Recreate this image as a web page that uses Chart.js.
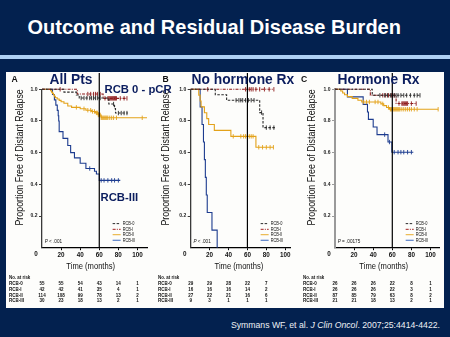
<!DOCTYPE html>
<html>
<head>
<meta charset="utf-8">
<script src="https://cdn.jsdelivr.net/npm/chart.js@4.4.0/dist/chart.umd.min.js"></script>
<style>
  html, body { margin: 0; padding: 0; }
  body { width: 450px; height: 337px; background: #03214f; position: relative; overflow: hidden;
         font-family: "Liberation Sans", Arial, sans-serif; }
  .abs { position: absolute; white-space: nowrap; line-height: 1; }
  #title { left: 27.5px; top: 16.5px; font-size: 20px; font-weight: bold; color: #fff; }
  #rule { left: 0; top: 54.5px; width: 450px; height: 4px; background: #aed0f4; }
  #panel { left: 6px; top: 71.5px; width: 438px; height: 236.5px; background: #fdfdfb; }
  canvas { position: absolute; top: 70px; }
  .ann { color: #0b1d5e; font-weight: bold; }
  .big { font-size: 13.8px; top: 73px; }
  .mid { font-size: 11.3px; }
  .letter { font-size: 8.6px; font-weight: bold; color: #111; top: 74.5px; }
  #cite { right: 10px; top: 320.6px; font-size: 8.7px; color: #eef0f4; }
</style>
</head>
<body>
<div id="title" class="abs">Outcome and Residual Disease Burden</div>
<div id="rule" class="abs"></div>
<div id="panel" class="abs"></div>
<canvas id="chartA" width="146" height="236" style="left:6px"></canvas>
<canvas id="chartB" width="142" height="236" style="left:155px"></canvas>
<canvas id="chartC" width="144" height="236" style="left:300px"></canvas>
<div class="abs letter" style="left:11.5px">A</div>
<div class="abs letter" style="left:162.5px">B</div>
<div class="abs letter" style="left:301px">C</div>
<div class="abs ann big" style="left:49.5px">All Pts</div>
<div class="abs ann big" style="left:191.5px">No hormone Rx</div>
<div class="abs ann big" style="left:337.5px">Hormone Rx</div>
<div class="abs ann mid" style="left:104.5px; top:83.5px">RCB 0 - pCR</div>
<div class="abs ann mid" style="left:100.5px; top:192px">RCB-III</div>
<div id="cite" class="abs">Symmans WF, et al. <i>J Clin Oncol</i>. 2007;25:4414-4422.</div>
<script>
// groups and tick labels
const groups = ['RCB-0', 'RCB-I', 'RCB-II', 'RCB-III'];
const xTicks = [20, 40, 60, 80, 100];
const yTicks = [0.2, 0.4, 0.6, 0.8, 1.0];
const riskTimes = [0, 20, 40, 60, 80, 100];

// A - all patients (months / proportion free of relapse / censored times)
const aT0 = [0, 23, 36, 39, 70, 76, 77, 90];
const aS0 = [1, 0.982, 0.964, 0.945, 0.907, 0.878, 0.85, 0.85];
const aC0 = [41, 44, 47, 50, 52, 54, 56, 58, 61, 75, 80, 83, 86, 89];
const aT1 = [0, 37, 64, 89];
const aS1 = [1, 0.97, 0.943, 0.943];
const aC1 = [19, 48, 51, 54, 56, 58, 61, 66, 69, 70, 71, 72, 73, 74, 75, 76, 77, 78, 82, 86, 89];
const aT2 = [0, 9, 10, 11, 12, 13, 14, 16, 18, 20, 23, 27, 31, 40, 46, 52, 56, 59, 62, 110];
const aS2 = [1, 0.991, 0.982, 0.974, 0.965, 0.956, 0.947, 0.939, 0.93, 0.921, 0.912, 0.895, 0.886, 0.877, 0.868, 0.86, 0.851, 0.838, 0.82, 0.82];
const aC2 = [36, 44, 48, 51, 53, 55, 57, 58, 59, 60, 61, 62, 63, 64, 65, 66, 67, 68, 69, 71, 73, 75, 78, 105];
const aT3 = [0, 11, 13, 14.5, 16, 17, 17.5, 18, 22, 27, 30, 34, 40, 46, 55, 57, 60, 82];
const aS3 = [1, 0.967, 0.933, 0.9, 0.867, 0.833, 0.8, 0.733, 0.69, 0.645, 0.6, 0.567, 0.533, 0.5, 0.483, 0.465, 0.425, 0.425];
const aC3 = [50, 62, 65, 69, 73, 76, 80];
const aRisk0 = [55, 55, 54, 43, 14, 1];
const aRisk1 = [42, 42, 41, 35, 4, 1];
const aRisk2 = [114, 108, 99, 78, 13, 2];
const aRisk3 = [30, 23, 18, 13, 2, 1];

// B - no hormone therapy
const bT0 = [0, 26, 38, 73, 76.5, 90];
const bS0 = [1, 0.966, 0.931, 0.853, 0.758, 0.758];
const bC0 = [48, 51, 53, 55, 58, 61, 64, 67, 75, 80, 84, 88];
const bT1 = [0, 88];
const bS1 = [1, 1];
const bC1 = [18, 58, 60, 62, 64, 66, 69, 73, 78, 83, 88];
const bT2 = [0, 8.5, 10, 11, 14.5, 17, 19, 25, 42.5, 69, 87.5];
const bS2 = [1, 0.963, 0.926, 0.889, 0.852, 0.815, 0.778, 0.741, 0.703, 0.634, 0.634];
const bC2 = [45, 53, 56, 58, 60, 62, 64, 66, 72, 76, 80, 84, 87.5];
const bT3 = [0, 10, 12, 13.5, 14.5, 15.5, 16.5, 17.5, 22.5, 28];
const bS3 = [1, 0.889, 0.778, 0.667, 0.556, 0.444, 0.333, 0.222, 0.111, 0];
const bC3 = [];
const bRisk0 = [29, 29, 28, 22, 7];
const bRisk1 = [16, 16, 16, 14, 2];
const bRisk2 = [27, 22, 21, 16, 6];
const bRisk3 = [9, 3, 1, 1, 1];

// C - hormone therapy
const cT0 = [0, 39, 89];
const cS0 = [1, 0.962, 0.962];
const cC0 = [47, 52, 55, 58, 60, 62, 64, 66, 69, 72, 75, 79, 83, 86, 89];
const cT1 = [0, 37, 64, 85];
const cS1 = [1, 0.962, 0.91, 0.91];
const cC1 = [50, 53, 56, 59, 62, 67, 70, 71, 72, 73, 74, 75, 76, 80, 85];
const cT2 = [0, 6, 8, 10, 13, 18, 24, 28, 48, 51, 54, 57, 108];
const cS2 = [1, 0.989, 0.977, 0.966, 0.954, 0.943, 0.931, 0.92, 0.908, 0.897, 0.885, 0.874, 0.874];
const cC2 = [30, 33, 36, 42, 45, 50, 56, 58, 59, 60, 61, 62, 63, 64, 65, 66, 67, 68, 70, 72, 74, 76, 78, 80, 83, 86, 108];
const cT3 = [0, 13, 29.5, 34, 35, 40, 44, 55.5, 59.5, 82];
const cS3 = [1, 0.952, 0.905, 0.857, 0.81, 0.762, 0.714, 0.667, 0.603, 0.603];
const cC3 = [52, 57, 62, 66, 69, 72, 76, 80];
const cRisk0 = [26, 26, 26, 22, 8, 1];
const cRisk1 = [26, 26, 26, 22, 3, 1];
const cRisk2 = [87, 85, 79, 63, 8, 2];
const cRisk3 = [21, 21, 18, 13, 2, 1];

// styles
const lineColors = ['#2b2b2b', '#8e1b1b', '#e3a21a', '#1d3c8f'];
const legendColors = ['#2b2b2b', '#a11f1f', '#e8ad2c', '#3a68bf'];
const lineDashes = [[2.5, 1.5], [3, 1.2, 1, 1.2], [], []];
const FAM = '"Liberation Sans", Arial, sans-serif';
Chart.defaults.font.family = FAM;

function survAt(times, survs, t) {
    let s = survs[0];
    for (let i = 0; i < times.length; i++) {
        if (times[i] <= t) s = survs[i];
    }
    return s;
}

function narrow(ctx, text, x, y, sx, align) {
    ctx.save();
    ctx.translate(x, y);
    ctx.scale(sx, 1);
    ctx.textAlign = align;
    ctx.fillText(text, 0, 0);
    ctx.restore();
}

const decor = {
    id: 'decor',
    afterDatasetsDraw(chart, args, o) {
        const ctx = chart.ctx;
        const x = chart.scales.x, y = chart.scales.y;
        ctx.save();
        // 60 month marker line
        const x60 = x.getPixelForValue(60);
        ctx.strokeStyle = '#000';
        ctx.lineWidth = 1.2;
        ctx.beginPath();
        ctx.moveTo(x60, 3);
        ctx.lineTo(x60, y.bottom);
        ctx.stroke();

        ctx.fillStyle = '#111';
        ctx.textBaseline = 'middle';
        ctx.font = 'bold 6.3px ' + FAM;
        narrow(ctx, '0', x.left - 6, y.bottom + 6.6, 1, 'center');
        ctx.font = '9.5px ' + FAM;
        narrow(ctx, 'Time (months)', x.getPixelForValue(51), y.bottom + 18.3, 0.8, 'center');
        ctx.save();
        ctx.translate(x.left - o.titleDx, y.getPixelForValue(0.57));
        ctx.rotate(-Math.PI / 2);
        ctx.scale(0.82, 1);
        ctx.textAlign = 'center';
        ctx.font = '10.8px ' + FAM;
        ctx.fillText('Proportion Free of Distant Relapse', 0, 0);
        ctx.restore();

        // legend
        const legendY = [0.152, 0.116, 0.082, 0.047];
        const lx = x.getPixelForValue(74);
        groups.forEach((g, i) => {
            const ly = y.getPixelForValue(legendY[i]);
            ctx.strokeStyle = legendColors[i];
            ctx.setLineDash(lineDashes[i]);
            ctx.lineWidth = 1;
            ctx.beginPath();
            ctx.moveTo(lx, ly);
            ctx.lineTo(lx + 8, ly);
            ctx.stroke();
            ctx.setLineDash([]);
            ctx.font = '5.2px ' + FAM;
            narrow(ctx, g, lx + 10, ly, 0.75, 'left');
        });

        // p value
        const py = y.getPixelForValue(0.042);
        const px = x.getPixelForValue(3);
        ctx.font = 'italic 5.8px ' + FAM;
        narrow(ctx, 'P', px, py, 0.8, 'left');
        ctx.font = '5.8px ' + FAM;
        narrow(ctx, o.pText, px + 4.2, py, 0.8, 'left');

        // number at risk table
        ctx.font = 'bold 5.8px ' + FAM;
        narrow(ctx, 'No. at risk', 3, y.bottom + 29.6, 0.76, 'left');
        const rowDy = [35.8, 41.5, 47.2, 52.8];
        o.risk.forEach((row, i) => {
            narrow(ctx, groups[i], 3, y.bottom + rowDy[i], 0.78, 'left');
            row.forEach((n, j) => {
                narrow(ctx, String(n), x.getPixelForValue(riskTimes[j]), y.bottom + rowDy[i], 0.78, 'center');
            });
        });
        ctx.restore();
    }
};

function makePanel(id, times, survs, cens, risk, pText, geo) {
    const datasets = [];
    groups.forEach((g, i) => {
        datasets.push({
            label: g,
            data: times[i].map((t, k) => ({x: t, y: survs[i][k]})),
            stepped: true,
            borderColor: lineColors[i],
            borderDash: lineDashes[i],
            borderWidth: 1.1,
            pointRadius: 0,
            fill: false,
            clip: false
        });
        datasets.push({
            label: g + ' censored',
            data: cens[i].map(t => ({x: t, y: survAt(times[i], survs[i], t)})),
            showLine: false,
            pointStyle: 'line',
            pointRotation: 90,
            pointRadius: 2.2,
            pointBorderColor: lineColors[i],
            pointBorderWidth: 0.9,
            clip: false
        });
    });

    new Chart(document.getElementById(id), {
        type: 'line',
        data: {datasets: datasets},
        plugins: [decor],
        options: {
            responsive: false,
            animation: false,
            layout: {padding: {left: 0, right: geo.padR, top: 19.3, bottom: 34.3}},
            plugins: {
                legend: {display: false},
                tooltip: {enabled: false},
                decor: {risk: risk, pText: pText, titleDx: geo.titleDx}
            },
            scales: {
                x: {
                    type: 'linear',
                    min: 0,
                    max: geo.xMax,
                    afterBuildTicks: s => { s.ticks = xTicks.map(v => ({value: v})); },
                    afterFit: s => { s.height = 24; },
                    grid: {drawOnChartArea: false, drawTicks: true, tickLength: 2.5, color: '#000', lineWidth: 1},
                    border: {display: true, color: '#000', width: 1.2},
                    ticks: {font: {size: 6.3, weight: 'bold'}, color: '#111', padding: 1, maxRotation: 0, autoSkip: false}
                },
                y: {
                    type: 'linear',
                    min: 0,
                    max: 1,
                    afterBuildTicks: s => { s.ticks = yTicks.map(v => ({value: v})); },
                    afterFit: s => { s.width = geo.yW; },
                    grid: {drawOnChartArea: false, drawTicks: true, tickLength: 3, color: geo.axisColor, lineWidth: 1},
                    border: {display: true, color: geo.axisColor, width: geo.axisWidth},
                    ticks: {font: {size: 5, weight: 'bold'}, color: '#222', padding: 1.5, callback: v => v.toFixed(1)}
                }
            }
        }
    });
}

makePanel('chartA', [aT0, aT1, aT2, aT3], [aS0, aS1, aS2, aS3], [aC0, aC1, aC2, aC3],
    [aRisk0, aRisk1, aRisk2, aRisk3], '< .001',
    {yW: 36, padR: 5, xMax: 110, titleDx: 22, axisColor: '#3a3a3a', axisWidth: 1.3});
makePanel('chartB', [bT0, bT1, bT2, bT3], [bS0, bS1, bS2, bS3], [bC0, bC1, bC2, bC3],
    [bRisk0, bRisk1, bRisk2, bRisk3], '< .001',
    {yW: 35.7, padR: 6.1, xMax: 106, titleDx: 25, axisColor: '#3a3a3a', axisWidth: 1.3});
makePanel('chartC', [cT0, cT1, cT2, cT3], [cS0, cS1, cS2, cS3], [cC0, cC1, cC2, cC3],
    [cRisk0, cRisk1, cRisk2, cRisk3], '= .00175',
    {yW: 35, padR: 4.9, xMax: 109, titleDx: 23, axisColor: '#9a9a9a', axisWidth: 2});
</script>
</body>
</html>
